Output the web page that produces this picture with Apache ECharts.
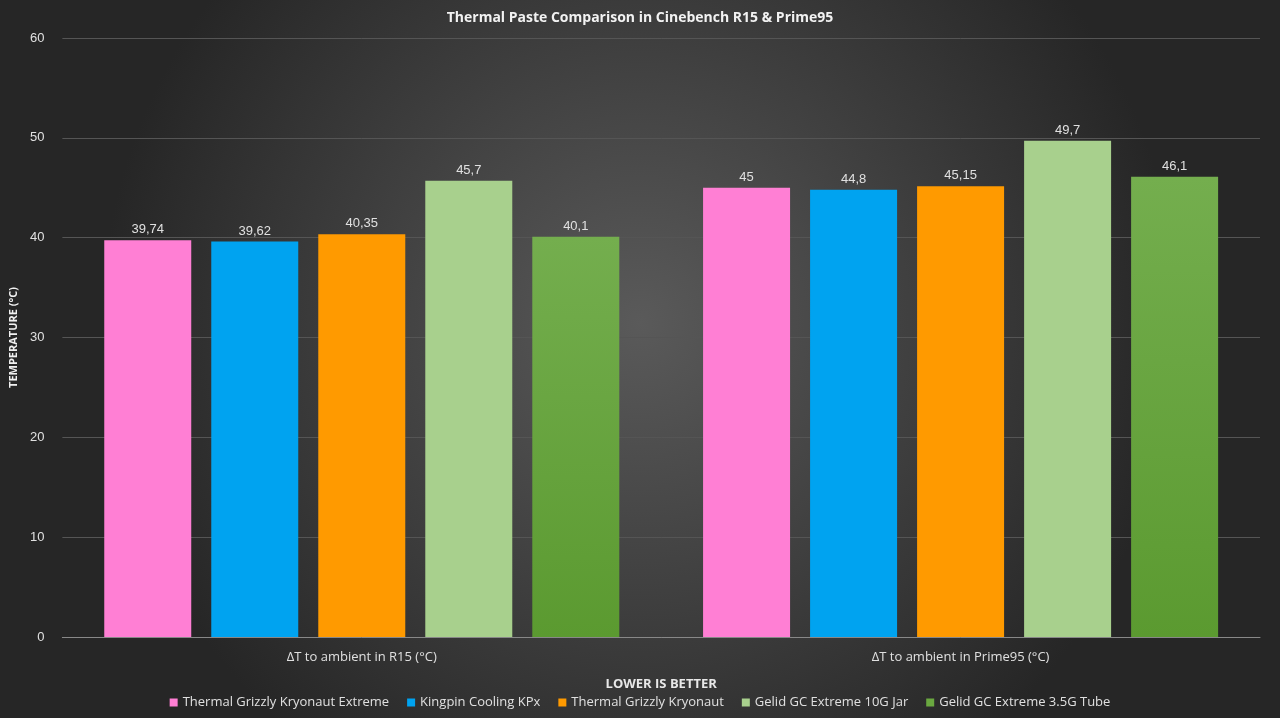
<!DOCTYPE html>
<html><head><meta charset="utf-8">
<script src="https://cdn.jsdelivr.net/npm/echarts@6/dist/echarts.min.js"></script>
<style>html,body{margin:0;padding:0}#c{width:1280px;height:718px}</style></head>
<body><div id="c"></div>
<script>
const categories = ['ΔT to ambient in R15 (°C)', 'ΔT to ambient in Prime95 (°C)'];
const seriesNames = ['Thermal Grizzly Kryonaut Extreme','Kingpin Cooling KPx','Thermal Grizzly Kryonaut','Gelid GC Extreme 10G Jar','Gelid GC Extreme 3.5G Tube'];
const kryonautExtreme = [39.74, 45];
const kpx = [39.62, 44.8];
const kryonaut = [40.35, 45.15];
const gelidJar = [45.7, 49.7];
const gelidTube = [40.1, 46.1];
const labelsText = [['39,74','45'],['39,62','44,8'],['40,35','45,15'],['45,7','49,7'],['40,1','46,1']];
const colors = ['#ff7fd4','#00a3f0','#ff9a00','#a8d08d',
  new echarts.graphic.LinearGradient(0,0,0,1,[{offset:0,color:'#74ae4e'},{offset:1,color:'#5b9a30'}])];
const legendColors = ['#ff7fd4','#00a3f0','#ff9a00','#a8d08d','#6aa840'];
const data = [kryonautExtreme,kpx,kryonaut,gelidJar,gelidTube];
const chart = echarts.init(document.getElementById('c'));
chart.setOption({
  backgroundColor: new echarts.graphic.RadialGradient(0.5,0.45,0.75,[{offset:0,color:'#5a5a5a'},{offset:1,color:'#262626'}]),
  title:{text:'Thermal Paste Comparison in Cinebench R15 & Prime95',left:'center',top:6,textStyle:{color:'#f2f2f2',fontSize:14,fontWeight:'bold',fontFamily:'Open Sans'}},
  legend:{bottom:4,left:'center',itemWidth:8,itemHeight:8,itemGap:18,icon:'rect',textStyle:{color:'#e0e0e0',fontSize:13,fontFamily:'Open Sans'},data:seriesNames.map((n,i)=>({name:n,itemStyle:{color:legendColors[i]}}))},
  grid:{left:55,right:20,top:38,bottom:81},
  xAxis:{type:'category',data:categories,axisLine:{lineStyle:{color:'#888'}},axisTick:{show:false},
    axisLabel:{color:'#e0e0e0',fontSize:13,margin:14,fontFamily:'Open Sans'},
    name:'LOWER IS BETTER',nameLocation:'middle',nameGap:41,nameTextStyle:{color:'#e8e8e8',fontWeight:'bold',fontSize:13,fontFamily:'Open Sans'}},
  yAxis:{type:'value',min:0,max:60,interval:10,axisLabel:{color:'#e0e0e0',fontSize:13,margin:18},
    splitLine:{lineStyle:{color:'#555'}},
    name:'TEMPERATURE (°C)',nameLocation:'middle',nameGap:33,nameTextStyle:{color:'#f0f0f0',fontWeight:'bold',fontSize:11,fontFamily:'Open Sans'}},
  series:data.map((d,i)=>({name:seriesNames[i],type:'bar',barWidth:87,barGap:'23%',data:d,
    itemStyle:{color:colors[i]},
    label:{show:true,position:'top',color:'#e0e0e0',fontSize:13,distance:4,formatter:p=>labelsText[i][p.dataIndex]}}))
});
</script></body></html>
